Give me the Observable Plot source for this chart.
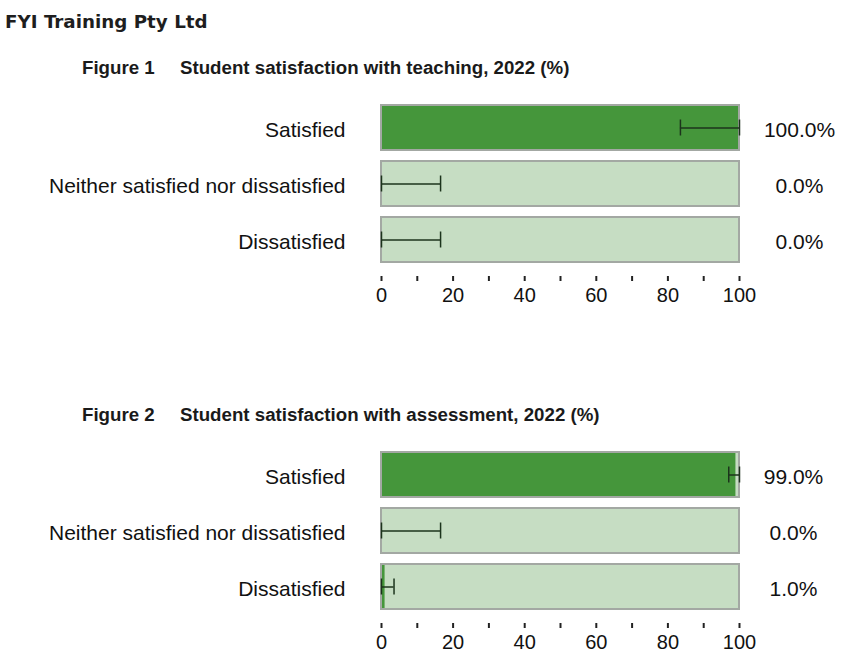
<!DOCTYPE html>
<html>
<head>
<meta charset="utf-8">
<script src="https://cdn.jsdelivr.net/npm/d3@7"></script>
<script src="https://cdn.jsdelivr.net/npm/@observablehq/plot@0.6"></script>
<style>
  html, body { margin: 0; padding: 0; background: #fff; }
  #page { position: relative; width: 858px; height: 662px; overflow: hidden; }
  .title { position: absolute; left: 5px; top: 13px; font: bold 18.3px/18px "DejaVu Sans", sans-serif; color: #1e1e1e; white-space: nowrap; }
  .fig-head { position: absolute; font: bold 18.7px/18.5px "Liberation Sans", Arial, sans-serif; color: #1a1a1a; white-space: nowrap; }
  .chart { position: absolute; left: 0; }
</style>
</head>
<body>
<div id="page"></div>
<script>
// Survey categories and results (percent of students)
const categories = ["Satisfied", "Neither satisfied nor dissatisfied", "Dissatisfied"];

const teachingValues = [100, 0, 0];
const teachingLow = [83.5, 0, 0];
const teachingHigh = [100, 16.5, 16.5];

const assessmentValues = [99, 0, 1];
const assessmentLow = [97, 0, 0];
const assessmentHigh = [100, 16.5, 3.5];

const xTicks = [0, 10, 20, 30, 40, 50, 60, 70, 80, 90, 100];
const xDomain = [0, 100];

const pageTitle = "FYI Training Pty Ltd";
const figureNumbers = ["Figure 1", "Figure 2"];
const figureTitles = [
  "Student satisfaction with teaching, 2022 (%)",
  "Student satisfaction with assessment, 2022 (%)"
];

const darkGreen = "#45963b";
const lightGreen = "#c6ddc3";
const borderGray = "#a3a8a3";
const whiskerColor = "#1c331c";

function satisfactionChart(values, low, high, labelDx) {
  const rows = categories.map((c, i) => ({category: c, value: values[i], low: low[i], high: high[i]}));
  return Plot.plot({
    width: 858,
    height: 215,
    marginLeft: 381,
    marginRight: 119,
    marginTop: 10,
    marginBottom: 34,
    style: {fontFamily: "'Liberation Sans', Arial, sans-serif", fontSize: "21px", color: "#111", background: "transparent"},
    x: {domain: xDomain},
    y: {domain: categories, paddingInner: 0.2, paddingOuter: 0, insetBottom: 14},
    marks: [
      // full-width track
      Plot.barX(rows, {y: "category", x1: xDomain[0], x2: xDomain[1], fill: lightGreen}),
      // value bar
      Plot.barX(rows, {y: "category", x: "value", fill: darkGreen}),
      // track outline
      Plot.barX(rows, {y: "category", x1: xDomain[0], x2: xDomain[1], fill: "none", stroke: borderGray, strokeWidth: 2}),
      // confidence interval whiskers
      Plot.ruleY(rows, {y: "category", x1: "low", x2: "high", stroke: whiskerColor, strokeWidth: 1.5}),
      Plot.tickX(rows, {y: "category", x: "low", insetTop: 14.5, insetBottom: 14.5, stroke: whiskerColor, strokeWidth: 1.5}),
      Plot.tickX(rows, {y: "category", x: "high", insetTop: 14.5, insetBottom: 14.5, stroke: whiskerColor, strokeWidth: 1.5}),
      // value labels to the right
      Plot.text(rows, {y: "category", x: xDomain[1], dx: labelDx, dy: 2.5, text: d => d.value.toFixed(1) + "%", fontSize: 21, textAnchor: "middle", fill: "#111"}),
      Plot.axisY({tickSize: 0, tickPadding: 36, fontSize: 21, dy: 2, label: null, fill: "#111"}),
      Plot.axisX({ticks: xTicks, tickSize: 5, tickPadding: 6, strokeWidth: 2, stroke: "#222",
        tickFormat: d => d % 20 === 0 ? String(d) : "", fontSize: 20, label: null, fill: "#111"})
    ]
  });
}

const page = document.getElementById("page");

const title = document.createElement("div");
title.className = "title";
title.textContent = pageTitle;
page.appendChild(title);

const layouts = [
  {headTop: 59, chartTop: 95, values: teachingValues, low: teachingLow, high: teachingHigh, dx: 60},
  {headTop: 406, chartTop: 442, values: assessmentValues, low: assessmentLow, high: assessmentHigh, dx: 54}
];

layouts.forEach((l, i) => {
  const num = document.createElement("div");
  num.className = "fig-head";
  num.style.left = "82px";
  num.style.top = l.headTop + "px";
  num.textContent = figureNumbers[i];
  page.appendChild(num);

  const t = document.createElement("div");
  t.className = "fig-head";
  t.style.left = "180px";
  t.style.top = l.headTop + "px";
  t.textContent = figureTitles[i];
  page.appendChild(t);

  const chart = satisfactionChart(l.values, l.low, l.high, l.dx);
  chart.classList.add("chart");
  chart.style.top = l.chartTop + "px";
  page.appendChild(chart);
});
</script>
</body>
</html>
